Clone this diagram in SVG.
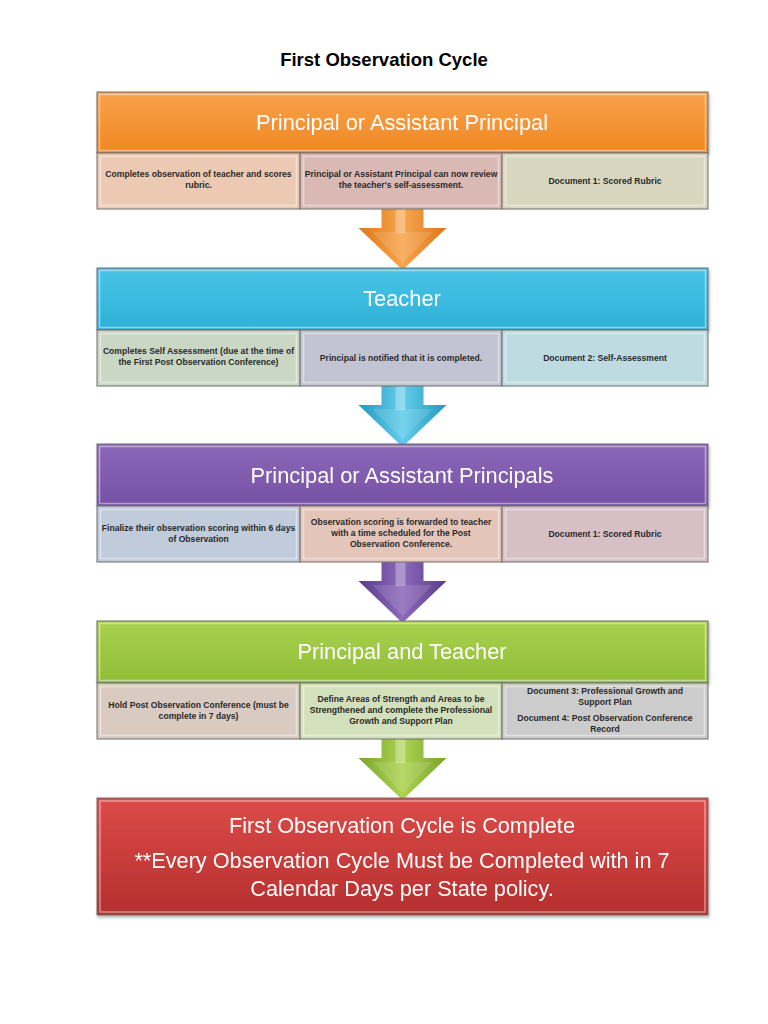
<svg xmlns="http://www.w3.org/2000/svg" width="768" height="1024" viewBox="0 0 768 1024">
  <defs>
    <style>
      .title { font-family: "Liberation Sans", Arial, sans-serif; font-weight: bold; font-size: 18.5px; fill: #000; text-anchor: middle; }
      .hdr { font-family: "Liberation Sans", Arial, sans-serif; font-size: 21.8px; fill: #ffffff; text-anchor: middle; }
      .big { font-family: "Liberation Sans", Arial, sans-serif; font-size: 21.7px; fill: #ffffff; text-anchor: middle; }
      .cell { font-family: "Liberation Sans", Arial, sans-serif; font-weight: bold; font-size: 8.6px; fill: #2a2a2a; text-anchor: middle; }
      .frame { stroke: #6e6e6e; stroke-width: 1; }
      .bevel { fill: none; stroke: #ffffff; stroke-opacity: 0.45; stroke-width: 1.5; }
    </style>
    <filter id="sh" x="-5%" y="-10%" width="110%" height="130%">
      <feDropShadow dx="1" dy="2" stdDeviation="1.5" flood-color="#000" flood-opacity="0.3"/>
    </filter>
    <linearGradient id="gOr" x1="0" y1="0" x2="0" y2="1"><stop offset="0" stop-color="#F9A24C"/><stop offset="1" stop-color="#EF8822"/></linearGradient>
    <linearGradient id="gCy" x1="0" y1="0" x2="0" y2="1"><stop offset="0" stop-color="#48C3E6"/><stop offset="1" stop-color="#30B1D8"/></linearGradient>
    <linearGradient id="gPu" x1="0" y1="0" x2="0" y2="1"><stop offset="0" stop-color="#8B68B9"/><stop offset="1" stop-color="#7650A4"/></linearGradient>
    <linearGradient id="gGr" x1="0" y1="0" x2="0" y2="1"><stop offset="0" stop-color="#A9D14F"/><stop offset="1" stop-color="#91BD37"/></linearGradient>
    <linearGradient id="gRd" x1="0" y1="0" x2="0" y2="1"><stop offset="0" stop-color="#DC4B48"/><stop offset="1" stop-color="#B52F2E"/></linearGradient>
    <linearGradient id="aOr" x1="0" y1="0" x2="1" y2="0"><stop offset="0" stop-color="#DD7816"/><stop offset="0.5" stop-color="#F8A54E"/><stop offset="1" stop-color="#DD7816"/></linearGradient>
    <linearGradient id="aCy" x1="0" y1="0" x2="1" y2="0"><stop offset="0" stop-color="#2499BF"/><stop offset="0.5" stop-color="#62CDEA"/><stop offset="1" stop-color="#2499BF"/></linearGradient>
    <linearGradient id="aPu" x1="0" y1="0" x2="1" y2="0"><stop offset="0" stop-color="#5A3B8A"/><stop offset="0.5" stop-color="#8D6ABB"/><stop offset="1" stop-color="#5A3B8A"/></linearGradient>
    <linearGradient id="aGr" x1="0" y1="0" x2="1" y2="0"><stop offset="0" stop-color="#7AA42A"/><stop offset="0.5" stop-color="#ACD352"/><stop offset="1" stop-color="#7AA42A"/></linearGradient>
    <symbol id="arrow" overflow="visible">
      <path d="M-21,0 H21 V19 H44 L0,61 L-44,19 H-21 Z"/>
      <path d="M-7,0 H3 V24 H-7 Z" fill="#ffffff" fill-opacity="0.3"/>
      <path d="M-30,23 H30 L0,54 Z" fill="#ffffff" fill-opacity="0.12"/>
    </symbol>
  </defs>

  <rect x="0" y="0" width="768" height="1024" fill="#ffffff"/>

  <text class="title" x="384" y="66">First Observation Cycle</text>

  <!-- connectors -->
  <g id="connectors">
    <use href="#arrow" x="402.5" y="209" fill="url(#aOr)"/>
    <use href="#arrow" x="402.5" y="386" fill="url(#aCy)"/>
    <use href="#arrow" x="402.5" y="562" fill="url(#aPu)"/>
    <use href="#arrow" x="402.5" y="739" fill="url(#aGr)"/>
  </g>

  <!-- Row 1 -->
  <g id="hdr1" filter="url(#sh)">
    <rect class="frame" x="97" y="92" width="611" height="61" fill="url(#gOr)"/>
    <rect class="bevel" x="99.5" y="94.5" width="606" height="56"/>
    <text class="hdr" x="402" y="130">Principal or Assistant Principal</text>
  </g>
  <g id="r1c1">
    <rect class="frame" x="97" y="153" width="203" height="56" fill="#ECC9B3"/>
    <rect class="bevel" x="100.5" y="156.5" width="196" height="49"/>
    <text class="cell" x="198.5" y="177">Completes observation of teacher and scores</text>
    <text class="cell" x="198.5" y="188">rubric.</text>
  </g>
  <g id="r1c2">
    <rect class="frame" x="300" y="153" width="202" height="56" fill="#DAB9B4"/>
    <rect class="bevel" x="303.5" y="156.5" width="195" height="49"/>
    <text class="cell" x="401" y="177">Principal or Assistant Principal can now review</text>
    <text class="cell" x="401" y="188">the teacher's self-assessment.</text>
  </g>
  <g id="r1c3">
    <rect class="frame" x="502" y="153" width="206" height="56" fill="#D9D6BF"/>
    <rect class="bevel" x="505.5" y="156.5" width="199" height="49"/>
    <text class="cell" x="605" y="184">Document 1: Scored Rubric</text>
  </g>

  <!-- Row 2 -->
  <g id="hdr2" filter="url(#sh)">
    <rect class="frame" x="97" y="268" width="611" height="62" fill="url(#gCy)"/>
    <rect class="bevel" x="99.5" y="270.5" width="606" height="57"/>
    <text class="hdr" x="402" y="306">Teacher</text>
  </g>
  <g id="r2c1">
    <rect class="frame" x="97" y="330" width="203" height="56" fill="#CAD7C4"/>
    <rect class="bevel" x="100.5" y="333.5" width="196" height="49"/>
    <text class="cell" x="198.5" y="354">Completes Self Assessment (due at the time of</text>
    <text class="cell" x="198.5" y="365">the First Post Observation Conference)</text>
  </g>
  <g id="r2c2">
    <rect class="frame" x="300" y="330" width="202" height="56" fill="#C3C4D3"/>
    <rect class="bevel" x="303.5" y="333.5" width="195" height="49"/>
    <text class="cell" x="401" y="361">Principal is notified that it is completed.</text>
  </g>
  <g id="r2c3">
    <rect class="frame" x="502" y="330" width="206" height="56" fill="#BFDBE2"/>
    <rect class="bevel" x="505.5" y="333.5" width="199" height="49"/>
    <text class="cell" x="605" y="361">Document 2: Self-Assessment</text>
  </g>

  <!-- Row 3 -->
  <g id="hdr3" filter="url(#sh)">
    <rect class="frame" x="97" y="444" width="611" height="62" fill="url(#gPu)"/>
    <rect class="bevel" x="99.5" y="446.5" width="606" height="57"/>
    <text class="hdr" x="402" y="483">Principal or Assistant Principals</text>
  </g>
  <g id="r3c1">
    <rect class="frame" x="97" y="506" width="203" height="56" fill="#C0CBDB"/>
    <rect class="bevel" x="100.5" y="509.5" width="196" height="49"/>
    <text class="cell" x="198.5" y="531">Finalize their observation scoring within 6 days</text>
    <text class="cell" x="198.5" y="542">of Observation</text>
  </g>
  <g id="r3c2">
    <rect class="frame" x="300" y="506" width="202" height="56" fill="#E4C5B9"/>
    <rect class="bevel" x="303.5" y="509.5" width="195" height="49"/>
    <text class="cell" x="401" y="525">Observation scoring is forwarded to teacher</text>
    <text class="cell" x="401" y="536">with a time scheduled for the Post</text>
    <text class="cell" x="401" y="547">Observation Conference.</text>
  </g>
  <g id="r3c3">
    <rect class="frame" x="502" y="506" width="206" height="56" fill="#D7BFC6"/>
    <rect class="bevel" x="505.5" y="509.5" width="199" height="49"/>
    <text class="cell" x="605" y="537">Document 1:  Scored Rubric</text>
  </g>

  <!-- Row 4 -->
  <g id="hdr4" filter="url(#sh)">
    <rect class="frame" x="97" y="621" width="611" height="62" fill="url(#gGr)"/>
    <rect class="bevel" x="99.5" y="623.5" width="606" height="57"/>
    <text class="hdr" x="402" y="659">Principal and Teacher</text>
  </g>
  <g id="r4c1">
    <rect class="frame" x="97" y="683" width="203" height="56" fill="#D9CAC2"/>
    <rect class="bevel" x="100.5" y="686.5" width="196" height="49"/>
    <text class="cell" x="198.5" y="708">Hold Post Observation Conference (must be</text>
    <text class="cell" x="198.5" y="719">complete in 7 days)</text>
  </g>
  <g id="r4c2">
    <rect class="frame" x="300" y="683" width="202" height="56" fill="#D2E0BC"/>
    <rect class="bevel" x="303.5" y="686.5" width="195" height="49"/>
    <text class="cell" x="401" y="702">Define Areas of Strength and Areas to be</text>
    <text class="cell" x="401" y="713">Strengthened and complete the Professional</text>
    <text class="cell" x="401" y="724">Growth and Support Plan</text>
  </g>
  <g id="r4c3">
    <rect class="frame" x="502" y="683" width="206" height="56" fill="#CCCCCC"/>
    <rect class="bevel" x="505.5" y="686.5" width="199" height="49"/>
    <text class="cell" x="605" y="694">Document 3:  Professional Growth and</text>
    <text class="cell" x="605" y="705">Support Plan</text>
    <text class="cell" x="605" y="721">Document 4:  Post Observation Conference</text>
    <text class="cell" x="605" y="732">Record</text>
  </g>

  <!-- Final -->
  <g id="final" filter="url(#sh)">
    <rect class="frame" x="97" y="798" width="611" height="117" fill="url(#gRd)"/>
    <rect class="bevel" x="100" y="801" width="605" height="111"/>
    <text class="big" x="402" y="833">First Observation Cycle is Complete</text>
    <text class="big" x="402" y="868">**Every Observation Cycle Must be Completed with in 7</text>
    <text class="big" x="402" y="896">Calendar Days per State policy.</text>
  </g>
</svg>
